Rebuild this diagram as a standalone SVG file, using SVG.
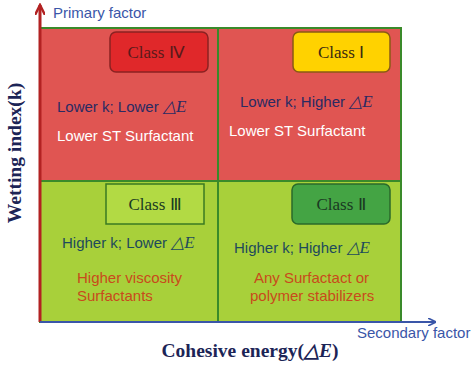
<svg xmlns="http://www.w3.org/2000/svg" width="474" height="365" viewBox="0 0 474 365">
<style>
.s{font-family:"Liberation Sans",Arial,sans-serif;font-size:15px}
.cls{font-family:"Liberation Serif","Times New Roman",serif;font-size:17px;text-anchor:middle}
.it{font-family:"Liberation Serif","Times New Roman",serif;font-style:italic;font-size:17px}
.navy{fill:#2a2a62}
.teal{fill:#1d4a5c}
.wht{fill:#ffffff}
.org{fill:#c84a1c}
.ax{font-family:"Liberation Serif","Times New Roman",serif;font-weight:bold;font-size:19.5px;fill:#1c2456}
</style>
<defs>
<marker id="ar" markerWidth="8" markerHeight="8" refX="7" refY="4" orient="auto" markerUnits="userSpaceOnUse">
<path d="M0,0 L8,4 L0,8" fill="none" stroke="#3a56a8" stroke-width="1.6"/>
</marker>
<marker id="ar2" markerWidth="12" markerHeight="10" refX="10" refY="5" orient="auto" markerUnits="userSpaceOnUse">
<path d="M0,0 L10,5 L0,10" fill="none" stroke="#b22222" stroke-width="2.5"/>
</marker>
</defs>
<rect width="474" height="365" fill="#ffffff"/>
<g id="quadrants">
<rect x="40" y="28" width="361" height="153" fill="#e05552"/>
<rect x="40" y="181" width="361" height="141" fill="#a8d03a"/>
<rect x="40" y="28" width="361" height="294" fill="none" stroke="#3a8a2a" stroke-width="2"/>
<line x1="218" y1="28" x2="218" y2="322" stroke="#3a8a2a" stroke-width="2"/>
<line x1="40" y1="181" x2="401" y2="181" stroke="#3a8a2a" stroke-width="2"/>
</g>
<g id="connectors">
<line x1="40" y1="322" x2="40" y2="5" stroke="#b22222" stroke-width="3" marker-end="url(#ar2)"/>
<line x1="40" y1="322" x2="435" y2="322" stroke="#3a56a8" stroke-width="2" marker-end="url(#ar)"/>
</g>
<g id="classIV">
<rect x="110" y="32" width="98" height="40" rx="6" fill="#e0282a" stroke="#8a2222" stroke-width="1.5"/>
<text x="156" y="58" class="cls" fill="#5a1a1a">Class Ⅳ</text>
</g>
<g id="classI">
<rect x="293" y="32" width="97" height="40" rx="6" fill="#ffd200" stroke="#8a5a14" stroke-width="1.5"/>
<text x="341" y="58" class="cls" fill="#3a2a10">Class  Ⅰ</text>
</g>
<g id="classIII">
<rect x="106" y="184" width="98" height="40" fill="#b2da44" stroke="#3a7a22" stroke-width="1.5"/>
<text x="155" y="210" class="cls" fill="#1a3a22">Class Ⅲ</text>
</g>
<g id="classII">
<rect x="292" y="184" width="98" height="40" rx="6" fill="#44a444" stroke="#2a6a2a" stroke-width="1.5"/>
<text x="341" y="210" class="cls" fill="#1a3a22">Class Ⅱ</text>
</g>
<g id="q4text">
<text x="57" y="112" class="s navy">Lower k; Lower <tspan class="it">△E</tspan></text>
<text x="57" y="141" class="s wht">Lower ST Surfactant</text>
</g>
<g id="q1text">
<text x="240" y="107" class="s navy">Lower k; Higher <tspan class="it">△E</tspan></text>
<text x="229" y="136" class="s wht">Lower ST Surfactant</text>
</g>
<g id="q3text">
<text x="62" y="248" class="s teal">Higher k; Lower <tspan class="it">△E</tspan></text>
<text x="77" y="283" class="s org">Higher viscosity</text>
<text x="77" y="301" class="s org">Surfactants</text>
</g>
<g id="q2text">
<text x="234" y="253" class="s teal">Higher k; Higher <tspan class="it">△E</tspan></text>
<text x="254" y="283" class="s org">Any Surfactact or</text>
<text x="250" y="301" class="s org">polymer stabilizers</text>
</g>
<g id="axislabels">
<text x="53" y="18" class="s" fill="#3a56a8">Primary factor</text>
<text x="357" y="338" class="s" fill="#3a56a8">Secondary factor</text>
<text x="250" y="357" class="ax" text-anchor="middle">Cohesive energy(<tspan font-style="italic">△E</tspan>)</text>
<text x="0" y="0" class="ax" text-anchor="middle" transform="translate(21,153) rotate(-90)">Wetting index(k)</text>
</g>
</svg>
